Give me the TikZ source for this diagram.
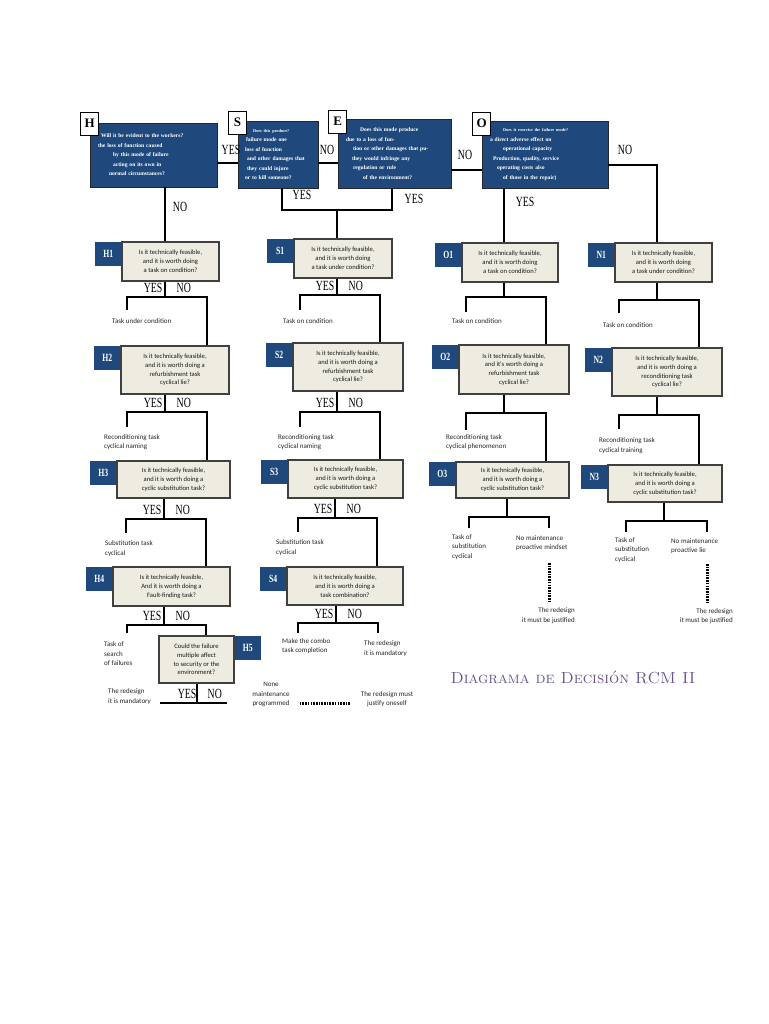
\documentclass[tikz,border=0pt]{standalone}
\usepackage{fontspec}
\usetikzlibrary{positioning}
\newfontfamily\tbfont{Liberation Serif}
\newfontfamily\ynfont[FakeStretch=0.7]{Liberation Serif}
\newfontfamily\boxfont{Carlito}
\definecolor{topblue}{RGB}{31,73,125}
\definecolor{tanbox}{RGB}{238,236,225}
\definecolor{rcmpurple}{RGB}{104,84,142}
\tikzset{
qtop/.style={
  draw=black!85,
  line width=0.8pt,
  fill=topblue,
  text=white,
  align=left,
  inner xsep=0pt,
  inner ysep=2pt,
  font=\tbfont\bfseries\fontsize{5.6}{9.5}\selectfont
  },
ltr/.style={
  draw=black,
  line width=0.9pt,
  fill=white,
  minimum width=18pt,
  minimum height=23pt,
  inner sep=0pt,
  font=\tbfont\bfseries\fontsize{13}{14}\selectfont
  },
qbox/.style={
  draw=black!75,
  line width=1.2pt,
  fill=tanbox,
  text=black!90,
  align=center,
  inner sep=1pt,
  font=\boxfont\fontsize{6.6}{8.8}\selectfont
  },
tagbox/.style={
  fill=topblue,
  text=white,
  minimum width=26pt,
  minimum height=24pt,
  inner sep=0pt,
  font=\ynfont\bfseries\fontsize{11}{12}\selectfont
  },
yn/.style={inner sep=0.5pt, font=\ynfont\fontsize{14}{14}\selectfont},
outtxt/.style={inner sep=0pt, align=left, text=black!85, font=\boxfont\fontsize{7}{9.5}\selectfont},
wire/.style={line width=2.6pt},
dotwire/.style={line width=3pt, dash pattern=on 1.6pt off 1.1pt},
rcmtitle/.style={text=rcmpurple, inner sep=0pt, font=\rmfamily\scshape\fontsize{16}{20}\selectfont}
}
\begin{document}
\begin{tikzpicture}[x=1pt,y=-1pt]
\useasboundingbox[fill=white] (0,0) rectangle (768,1024);
% top questions
\node[qtop, text width=127pt, minimum height=64pt] (h) at (153.5,155)
  {\hspace*{11pt}Will it be evident to the workers?\\
   \hspace*{8pt}the loss of function caused\\
   \hspace*{23pt}by this mode of failure\\
   \hspace*{23pt}acting on its own in\\
   \hspace*{19pt}normal circumstances?};
\node[qtop, text width=80pt, minimum height=67pt] (s) at (278,154.5)
  {\hspace*{15pt}{\fontsize{4.3}{6}\selectfont Does this produce?}\\
   \hspace*{8pt}failure mode one\\
   \hspace*{7pt}loss of function\\
   \hspace*{9pt}and other damages that\\
   \hspace*{9pt}they could injure\\
   \hspace*{7pt}or to kill someone?};
\node[qtop, text width=113pt, minimum height=69pt] (e) at (394.5,153.5)
  {\hspace*{22pt}Does this mode produce\\
   \hspace*{8pt}due to a loss of fun-\\
   \hspace*{15pt}tion or other damages that pu-\\
   \hspace*{14pt}they would infringe any\\
   \hspace*{15pt}regulation or rule\\
   \hspace*{25pt}of the environment?};
\node[qtop, text width=126pt, minimum height=67pt] (o) at (545,154.5)
  {\hspace*{21pt}{\fontsize{4.3}{6}\selectfont Does it exercise the failure mode?}\\
   \hspace*{8pt}a direct adverse effect on\\
   \hspace*{21pt}operational capacity\\
   \hspace*{11pt}Production, quality, service\\
   \hspace*{15pt}operating costs also\\
   \hspace*{21pt}of those in the repair)};
\node[ltr] (ht) at ([yshift=-1pt]h.north west) {H};
\node[ltr] (st) at ([yshift=-2pt]s.north west) {S};
\node[ltr] (et) at ([yshift=-3pt]e.north west) {E};
\node[ltr] (ot) at ([yshift=-3pt]o.north west) {O};

% H column
\node[qbox, minimum width=97pt, minimum height=39pt] (h1) at (170.5,261.5)
  {Is it technically feasible,\\and it is worth doing\\a task on condition?};
\node[qbox, minimum width=108pt, minimum height=48pt] (h2) at (175,370)
  {Is it technically feasible,\\and it is worth doing a\\refurbishment task\\cyclical lie?};
\node[qbox, minimum width=113pt, minimum height=37pt] (h3) at (173.5,479.5)
  {Is it technically feasible,\\and it is worth doing a\\cyclic substitution task?};
\node[qbox, minimum width=117pt, minimum height=39pt] (h4) at (171.5,586.5)
  {Is it technically feasible,\\And it is worth doing a\\Fault-finding task?};
\node[qbox, minimum width=75pt, minimum height=47pt] (h5) at (196.5,659.5)
  {Could the failure\\multiple affect\\to security or the\\environment?};
\node[tagbox, below left=0pt of h1.north west] (h1t) {H1};
\node[tagbox, below left=0pt of h2.north west] (h2t) {H2};
\node[tagbox, below left=0pt of h3.north west] (h3t) {H3};
\node[tagbox, below left=0pt of h4.north west] (h4t) {H4};
\node[tagbox, below right=0pt of h5.north east] (h5t) {H5};

% S column
\node[qbox, minimum width=98pt, minimum height=39pt] (s1) at (343,258.5)
  {Is it technically feasible,\\and it is worth doing\\a task under condition?};
\node[qbox, minimum width=110pt, minimum height=48pt] (s2) at (348,367)
  {Is it technically feasible,\\and it is worth doing a\\refurbishment task\\cyclical lie?};
\node[qbox, minimum width=115pt, minimum height=38pt] (s3) at (345.5,479)
  {Is it technically feasible,\\and it is worth doing a\\cyclic substitution task?};
\node[qbox, minimum width=116pt, minimum height=38pt] (s4) at (345,586)
  {Is it technically feasible,\\and it is worth doing a\\task combination?};
\node[tagbox, below left=0pt of s1.north west] (s1t) {S1};
\node[tagbox, below left=0pt of s2.north west] (s2t) {S2};
\node[tagbox, below left=0pt of s3.north west] (s3t) {S3};
\node[tagbox, below left=0pt of s4.north west] (s4t) {S4};

% O column
\node[qbox, minimum width=96pt, minimum height=39pt] (o1) at (510,262.5)
  {Is it technically feasible,\\and it is worth doing\\a task on condition?};
\node[qbox, minimum width=110pt, minimum height=49pt] (o2) at (514,369.5)
  {Is it technically feasible,\\and it's worth doing a\\refurbishment task\\cyclical lie?};
\node[qbox, minimum width=113pt, minimum height=36pt] (o3) at (512.5,480)
  {Is it technically feasible,\\and it is worth doing a\\cyclic substitution task?};
\node[tagbox, below left=0pt of o1.north west] (o1t) {O1};
\node[tagbox, below left=0pt of o2.north west] (o2t) {O2};
\node[tagbox, below left=0pt of o3.north west] (o3t) {O3};

% N column
\node[qbox, minimum width=97pt, minimum height=39pt] (n1) at (663.5,262.5)
  {Is it technically feasible,\\and it is worth doing\\a task under condition?};
\node[qbox, minimum width=110pt, minimum height=48pt] (n2) at (667,372)
  {Is it technically feasible,\\and it is worth doing a\\reconditioning task\\cyclical lie?};
\node[qbox, minimum width=114pt, minimum height=37pt] (n3) at (665,483.5)
  {Is it technically feasible,\\and it is worth doing a\\cyclic substitution task?};
\node[tagbox, below left=0pt of n1.north west] (n1t) {N1};
\node[tagbox, below left=0pt of n2.north west] (n2t) {N2};
\node[tagbox, below left=0pt of n3.north west] (n3t) {N3};

% fork points
\coordinate (sef) at (337,210);
\coordinate (h1f) at (165,297); \coordinate (h1y) at (127,310); \coordinate (h1n) at (207,297);
\coordinate (h2f) at (165,412); \coordinate (h2y) at (127,427); \coordinate (h2n) at (207,412);
\coordinate (h3f) at (164,519); \coordinate (h3y) at (126,533); \coordinate (h3n) at (206,519);
\coordinate (h4f) at (164,625); \coordinate (h4y) at (127,633); \coordinate (h4n) at (206,625);
\coordinate (h5f) at (197,703);
\coordinate (s1f) at (337,295); \coordinate (s1y) at (300,310); \coordinate (s1n) at (380,295);
\coordinate (s2f) at (337,412); \coordinate (s2y) at (300,427); \coordinate (s2n) at (380,412);
\coordinate (s3f) at (335,518); \coordinate (s3y) at (298,532); \coordinate (s3n) at (377,518);
\coordinate (s4f) at (336,623); \coordinate (s4y) at (298,633); \coordinate (s4n) at (378,633);
\coordinate (o1f) at (504,297); \coordinate (o1y) at (466,312); \coordinate (o1n) at (546,297);
\coordinate (o2f) at (504,413); \coordinate (o2y) at (466,430); \coordinate (o2n) at (546,413);
\coordinate (o3f) at (507,517); \coordinate (o3y) at (469,528); \coordinate (o3n) at (549,528);
\coordinate (n1f) at (657,300); \coordinate (n1y) at (619,313); \coordinate (n1n) at (699,300);
\coordinate (n2f) at (657,415); \coordinate (n2y) at (619,429); \coordinate (n2n) at (699,415);
\coordinate (n3f) at (664,521); \coordinate (n3y) at (626,532); \coordinate (n3n) at (707,532);

% top connectors
\draw[wire] ([yshift=-8pt]h.east) -- ([yshift=-8pt]h.east -| s.west);
\draw[wire] ([yshift=-8.5pt]s.east) -- ([yshift=-8.5pt]s.east -| e.west);
\draw[wire] ([yshift=-16.5pt]e.east) -- ([yshift=-16.5pt]e.east -| o.west);
\draw[wire] ([yshift=-10.5pt]o.east) -| (n1.north -| n1f);
\draw[wire] (h.south -| h1f) -- (h1.north -| h1f);
\draw[wire] ([xshift=4pt]s.south) |- ([xshift=-2.5pt]e.south |- sef) -- ([xshift=-2.5pt]e.south);
\draw[wire] (sef) -- (s1.north -| sef);
\draw[wire] (o.south -| o1f) -- (o1.north -| o1f);
\node[yn] (hyes) at (231,150) {YES};
\node[yn] (hno) at (180,207) {NO};
\node[yn] (sno) at (327,150) {NO};
\node[yn] (eno) at (465,155) {NO};
\node[yn] (ono) at (625,150) {NO};
\node[yn] (syes) at (302,195) {YES};
\node[yn] (eyes) at (414,199) {YES};
\node[yn] (oyes) at (525,202) {YES};

% H forks
\draw[wire] (h1.south -| h1f) -- (h1f);
\draw[wire] (h1y) |- (h1n) -- (h1n |- h2.north);
\draw[wire] (h2.south -| h2f) -- (h2f);
\draw[wire] (h2y) |- (h2n) -- (h2n |- h3.north);
\draw[wire] (h3.south -| h3f) -- (h3f);
\draw[wire] (h3y) |- (h3n) -- (h3n |- h4.north);
\draw[wire] (h4.south -| h4f) -- (h4f);
\draw[wire] (h4y) |- (h4n) -- (h4n |- h5.north);
\draw[wire] (h5.south -| h5f) -- (h5f);
\draw[wire] ([xshift=-37pt]h5f) -- ([xshift=30pt]h5f);
\node[yn, above left=3.5pt and 2pt of h1f] (h1yes) {YES};
\node[yn, above right=3.5pt and 11pt of h1f] (h1no) {NO};
\node[yn, above left=3.5pt and 2pt of h2f] (h2yes) {YES};
\node[yn, above right=3.5pt and 11pt of h2f] (h2no) {NO};
\node[yn, above left=3.5pt and 2pt of h3f] (h3yes) {YES};
\node[yn, above right=3.5pt and 11pt of h3f] (h3no) {NO};
\node[yn, above left=3.5pt and 2pt of h4f] (h4yes) {YES};
\node[yn, above right=3.5pt and 11pt of h4f] (h4no) {NO};
\node[yn, above left=3.5pt and 0pt of h5f] (h5yes) {YES};
\node[yn, above right=3.5pt and 10pt of h5f] (h5no) {NO};

% S forks
\draw[wire] (s1.south -| s1f) -- (s1f);
\draw[wire] (s1y) |- (s1n) -- (s1n |- s2.north);
\draw[wire] (s2.south -| s2f) -- (s2f);
\draw[wire] (s2y) |- (s2n) -- (s2n |- s3.north);
\draw[wire] (s3.south -| s3f) -- (s3f);
\draw[wire] (s3y) |- (s3n) -- (s3n |- s4.north);
\draw[wire] (s4.south -| s4f) -- (s4f);
\draw[wire] (s4y) |- (s4f) -| (s4n);
\node[yn, above left=3.5pt and 2pt of s1f] (s1yes) {YES};
\node[yn, above right=3.5pt and 11pt of s1f] (s1no) {NO};
\node[yn, above left=3.5pt and 2pt of s2f] (s2yes) {YES};
\node[yn, above right=3.5pt and 11pt of s2f] (s2no) {NO};
\node[yn, above left=3.5pt and 2pt of s3f] (s3yes) {YES};
\node[yn, above right=3.5pt and 11pt of s3f] (s3no) {NO};
\node[yn, above left=3.5pt and 2pt of s4f] (s4yes) {YES};
\node[yn, above right=3.5pt and 11pt of s4f] (s4no) {NO};

% O forks
\draw[wire] (o1.south -| o1f) -- (o1f);
\draw[wire] (o1y) |- (o1n) -- (o1n |- o2.north);
\draw[wire] (o2.south -| o2f) -- (o2f);
\draw[wire] (o2y) |- (o2n) -- (o2n |- o3.north);
\draw[wire] (o3.south -| o3f) -- (o3f);
\draw[wire] (o3y) |- (o3f) -| (o3n);

% N forks
\draw[wire] (n1.south -| n1f) -- (n1f);
\draw[wire] (n1y) |- (n1n) -- (n1n |- n2.north);
\draw[wire] (n2.south -| n2f) -- (n2f);
\draw[wire] (n2y) |- (n2n) -- (n2n |- n3.north);
\draw[wire] (n3.south -| n3f) -- (n3f);
\draw[wire] (n3y) |- (n3f) -| (n3n);

% outcomes
\node[outtxt, anchor=west] (h1out) at (112,321) {Task under condition};
\node[outtxt, anchor=west] (h2out) at (104,442) {Reconditioning task\\cyclical naming};
\node[outtxt, anchor=west] (h3out) at (105,548.5) {Substitution task\\cyclical};
\node[outtxt, anchor=west] (h4out) at (104,654) {Task of\\search\\of failures};
\node[outtxt, anchor=west] (h5out) at (108,696.5) {The redesign\\it is mandatory};
\node[outtxt, align=center] (none) at (271,694.5) {None\\maintenance\\programmed};
\node[outtxt, align=center] (must) at (387,699) {The redesign must\\justify oneself};
\node[outtxt, anchor=west] (s1out) at (283,321) {Task on condition};
\node[outtxt, anchor=west] (s2out) at (278,442) {Reconditioning task\\cyclical naming};
\node[outtxt, anchor=west] (s3out) at (276,547.5) {Substitution task\\cyclical};
\node[outtxt, anchor=west] (s4out) at (282,646) {Make the combo\\task completion};
\node[outtxt, anchor=west] (s4red) at (364,648.5) {The redesign\\it is mandatory};
\node[outtxt, anchor=west] (o1out) at (452,321) {Task on condition};
\node[outtxt, anchor=west] (o2out) at (446,442) {Reconditioning task\\cyclical phenomenon};
\node[outtxt, anchor=west] (o3out) at (452,547) {Task of\\substitution\\cyclical};
\node[outtxt, anchor=west] (o3no) at (516,543) {No maintenance\\proactive mindset};
\node[outtxt, anchor=east, align=right] (o3red) at (575,615.5) {The redesign\\it must be justified};
\node[outtxt, anchor=west] (n1out) at (603,325) {Task on condition};
\node[outtxt, anchor=west] (n2out) at (599,445.5) {Reconditioning task\\cyclical training};
\node[outtxt, anchor=west] (n3out) at (615,550) {Task of\\substitution\\cyclical};
\node[outtxt, anchor=west] (n3no) at (671,546) {No maintenance\\proactive lie};
\node[outtxt, anchor=east, align=right] (n3red) at (733,616) {The redesign\\it must be justified};
\draw[dotwire] ([yshift=-12pt]o3no.south -| o3n) -- ([yshift=5.5pt]o3red.north -| o3n);
\draw[dotwire] ([yshift=-10pt]n3no.south -| n3n) -- ([yshift=5pt]n3red.north -| n3n);
\draw[dotwire] ([xshift=10pt]none.east |- h5f) -- ([xshift=-11pt]must.west |- h5f);

\node[rcmtitle] (ttl) at (573,677) {Diagrama de Decisión RCM II};
\end{tikzpicture}
\end{document}
